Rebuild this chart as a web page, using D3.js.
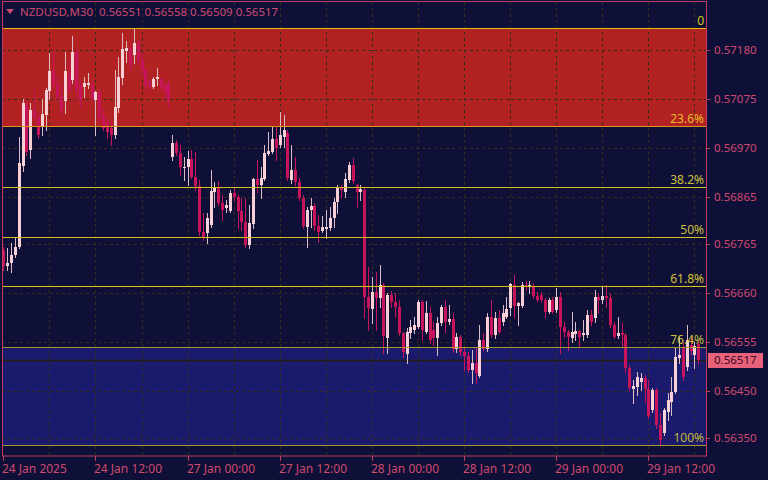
<!DOCTYPE html>
<html><head><meta charset="utf-8">
<script src="https://cdn.jsdelivr.net/npm/d3@7/dist/d3.min.js"></script>
<style>html,body{margin:0;padding:0;background:#0e1038;}svg{display:block}</style>
</head><body><svg id="c" width="768" height="480"></svg>
<script>
const symbol = "NZDUSD,M30";
const headerOHLC = ["0.56551", "0.56558", "0.56509", "0.56517"];
const opens = [.56752,.56718,.56724,.56741,.56759,.56932,.57062,.56966,.57052,.57035,.57017,.57041,.57092,.57135,.57105,.57079,.57071,.57131,.57116,.57176,.57105,.57101,.57105,.57105,.57073,.57090,.57041,.57026,.57013,.56998,.57056,.57120,.57178,.57184,.57169,.57195,.57159,.57137,.57112,.57101,.57118,.57118,.57105,.57105,.56951,.56981,.56960,.56928,.56930,.56947,.56908,.56889,.56791,.56789,.56806,.56876,.56885,.56853,.56842,.56836,.56874,.56866,.56836,.56812,.56763,.56808,.56904,.56891,.56904,.56958,.56962,.56990,.56977,.56994,.57002,.56902,.56923,.56898,.56863,.56801,.56838,.56846,.56804,.56793,.56797,.56799,.56821,.56855,.56887,.56876,.56902,.56934,.56891,.56876,.56881,.56652,.56626,.56662,.56650,.56677,.56564,.56656,.56641,.56630,.56575,.56530,.56575,.56581,.56587,.56641,.56577,.56617,.56581,.56564,.56596,.56630,.56598,.56604,.56540,.56566,.56534,.56526,.56496,.56510,.56483,.56560,.56540,.56609,.56570,.56607,.56598,.56609,.56628,.56677,.56632,.56632,.56677,.56673,.56675,.56654,.56656,.56645,.56620,.56645,.56624,.56652,.56587,.56577,.56564,.56573,.56579,.56570,.56570,.56613,.56607,.56652,.56645,.56654,.56650,.56592,.56568,.56575,.56570,.56500,.56455,.56459,.56470,.56478,.56455,.56410,.56453,.56378,.56361,.56406,.56427,.56448,.56521,.56545,.56501,.56549,.56528,.56551];
const highs = [.56759,.56756,.56767,.56778,.56994,.57075,.57073,.57067,.57094,.57045,.57075,.57099,.57174,.57176,.57127,.57109,.57176,.57159,.57210,.57184,.57116,.57122,.57131,.57116,.57092,.57094,.57056,.57035,.57030,.57137,.57165,.57216,.57199,.57195,.57227,.57201,.57174,.57141,.57120,.57122,.57141,.57122,.57112,.57116,.56998,.56987,.56977,.56951,.56964,.56966,.56962,.56902,.56831,.56831,.56923,.56898,.56900,.56870,.56859,.56881,.56885,.56870,.56863,.56863,.56848,.56906,.56945,.56930,.56977,.57005,.57015,.57015,.57047,.57041,.57009,.56977,.56951,.56906,.56870,.56844,.56863,.56853,.56827,.56825,.56838,.56844,.56863,.56891,.56891,.56917,.56940,.56949,.56893,.56891,.56885,.56716,.56694,.56705,.56720,.56682,.56660,.56665,.56660,.56645,.56577,.56585,.56602,.56609,.56645,.56645,.56643,.56630,.56598,.56609,.56635,.56645,.56635,.56617,.56575,.56570,.56543,.56534,.56538,.56543,.56592,.56575,.56617,.56645,.56620,.56624,.56635,.56652,.56682,.56699,.56641,.56684,.56686,.56686,.56682,.56662,.56662,.56650,.56650,.56652,.56671,.56662,.56598,.56581,.56620,.56598,.56581,.56602,.56624,.56624,.56667,.56660,.56673,.56677,.56660,.56598,.56609,.56596,.56575,.56506,.56474,.56491,.56489,.56485,.56474,.56457,.56457,.56404,.56414,.56446,.56481,.56545,.56566,.56560,.56592,.56566,.56555,.56558];
const lows = [.56709,.56709,.56705,.56737,.56756,.56921,.56955,.56949,.57030,.56992,.56998,.57009,.57075,.57099,.57073,.57041,.57045,.57090,.57109,.57073,.57058,.57079,.57099,.57069,.56998,.57026,.57009,.56992,.56977,.56992,.57047,.57107,.57154,.57137,.57152,.57148,.57127,.57094,.57099,.57099,.57105,.57094,.57077,.57056,.56945,.56955,.56913,.56902,.56891,.56906,.56881,.56784,.56774,.56767,.56801,.56844,.56848,.56816,.56833,.56833,.56859,.56799,.56795,.56759,.56756,.56799,.56876,.56863,.56902,.56955,.56960,.56945,.56973,.56973,.56902,.56895,.56891,.56859,.56799,.56759,.56801,.56795,.56769,.56791,.56778,.56795,.56801,.56831,.56866,.56866,.56898,.56895,.56844,.56859,.56607,.56581,.56596,.56581,.56630,.56532,.56532,.56630,.56609,.56570,.56523,.56510,.56564,.56575,.56585,.56560,.56575,.56553,.56549,.56528,.56592,.56577,.56594,.56534,.56534,.56528,.56496,.56491,.56468,.56468,.56481,.56538,.56536,.56566,.56564,.56575,.56592,.56607,.56613,.56609,.56592,.56630,.56667,.56660,.56650,.56643,.56641,.56609,.56617,.56617,.56620,.56532,.56566,.56538,.56555,.56560,.56545,.56560,.56566,.56592,.56598,.56617,.56639,.56630,.56587,.56564,.56564,.56545,.56491,.56453,.56425,.56442,.56453,.56427,.56393,.56406,.56371,.56335,.56357,.56389,.56399,.56446,.56510,.56474,.56496,.56528,.56500,.56509];
const closes = [.56718,.56724,.56741,.56759,.56938,.57067,.56962,.57052,.57035,.56998,.57043,.57094,.57135,.57105,.57079,.57052,.57135,.57094,.57176,.57094,.57073,.57109,.57109,.57077,.57090,.57035,.57013,.57005,.56998,.57058,.57122,.57182,.57184,.57148,.57195,.57159,.57137,.57105,.57101,.57118,.57122,.57099,.57090,.57073,.56981,.56960,.56930,.56930,.56947,.56908,.56889,.56791,.56778,.56821,.56878,.56885,.56853,.56838,.56848,.56874,.56866,.56836,.56812,.56763,.56810,.56904,.56891,.56906,.56960,.56964,.56990,.56970,.56998,.57009,.56906,.56923,.56898,.56863,.56804,.56838,.56846,.56804,.56791,.56801,.56801,.56821,.56855,.56887,.56881,.56904,.56934,.56900,.56876,.56883,.56652,.56628,.56662,.56650,.56677,.56568,.56656,.56641,.56630,.56575,.56534,.56577,.56587,.56592,.56641,.56581,.56617,.56560,.56564,.56596,.56630,.56598,.56604,.56540,.56566,.56534,.56526,.56496,.56510,.56489,.56560,.56540,.56609,.56570,.56607,.56577,.56617,.56626,.56679,.56632,.56639,.56677,.56673,.56677,.56654,.56645,.56645,.56620,.56645,.56620,.56652,.56587,.56577,.56566,.56577,.56579,.56566,.56575,.56613,.56598,.56652,.56645,.56654,.56650,.56592,.56566,.56575,.56570,.56500,.56457,.56461,.56481,.56478,.56455,.56397,.56453,.56378,.56346,.56410,.56431,.56448,.56523,.56528,.56481,.56560,.56536,.56547,.56517];
const timeLabels = ["24 Jan 2025", "24 Jan 12:00", "27 Jan 00:00", "27 Jan 12:00", "28 Jan 00:00", "28 Jan 12:00", "29 Jan 00:00", "29 Jan 12:00"];
const timeLabelBars = [0, 24, 48, 72, 96, 120, 144, 168];
const priceTicks = [0.57180, 0.57075, 0.56970, 0.56865, 0.56765, 0.56660, 0.56555, 0.56450, 0.56350];
const fibHigh = 0.57227;
const fibLow = 0.56335;
const fibRatios = [0, 0.236, 0.382, 0.5, 0.618, 0.764, 1];
const fibLabels = ["0", "23.6%", "38.2%", "50%", "61.8%", "76.4%", "100%"];
const lastPrice = 0.56517;

// ---- styling / layout ----
const W = 768, H = 480;
const plot = {l: 2, r: 706, t: 2, b: 456};
const C = {
  bg: "#0e1038", frame: "#c23c62", axisText: "#cf4a6e", grid: "#362c1c",
  bull: "#f9d0d6", bullWick: "#dcbcc4", bear: "#c8145a",
  red: "#b22222", blue: "#1b1b6e", lastLine: "#241c10",
  tagBg: "#e8627c", tagText: "#3c0a22"
};
const fibLineColors = ["#e2bf10", "#e0921c", "#d8be1c", "#d8be1c", "#e0c214", "#a8982c", "#a8982c"];
const fibTextColors = ["#d8c41c", "#eab824", "#ccc03c", "#ccc03c", "#d4c030", "#c8c038", "#c0b840"];
const font = "'Noto Sans', 'DejaVu Sans', sans-serif";

const n = closes.length;
const svg = d3.select("#c");
svg.append("rect").attr("width", W).attr("height", H).attr("fill", C.bg);

const x = d3.scaleBand().domain(d3.range(n)).range([1.38, 1.38 + 3.84 * n]).padding(0);
const cx = i => x(i) + x.bandwidth() / 2;
const y = d3.scaleLinear().domain([0.56350, 0.57180]).range([438, 50]);
const px = v => Math.round(v) + 0.5;

const fibPrices = fibRatios.map(r => fibHigh - (fibHigh - fibLow) * r);

// zones
const zoneG = svg.append("g");
zoneG.append("rect").attr("x", plot.l).attr("width", plot.r - plot.l)
  .attr("y", Math.round(y(fibPrices[0]))).attr("height", Math.round(y(fibPrices[1])) - Math.round(y(fibPrices[0])))
  .attr("fill", C.red);
zoneG.append("rect").attr("x", plot.l).attr("width", plot.r - plot.l)
  .attr("y", Math.round(y(fibPrices[5]))).attr("height", Math.round(y(fibPrices[6])) - Math.round(y(fibPrices[5])))
  .attr("fill", C.blue);

// grid
const gridG = svg.append("g").attr("stroke", C.grid).attr("stroke-dasharray", "3,3").attr("stroke-width", 1);
gridG.selectAll("line.h").data(priceTicks).join("line").attr("class", "h")
  .attr("x1", plot.l).attr("x2", plot.r).attr("y1", d => px(y(d))).attr("y2", d => px(y(d)));
const vBars = d3.range(12, n, 12);
gridG.selectAll("line.v").data(vBars).join("line").attr("class", "v")
  .attr("y1", plot.t).attr("y2", plot.b).attr("x1", d => px(cx(d))).attr("x2", d => px(cx(d)));

// last price line
svg.append("line").attr("x1", plot.l).attr("x2", plot.r)
  .attr("y1", px(y(lastPrice))).attr("y2", px(y(lastPrice))).attr("stroke", C.lastLine).attr("stroke-width", 1.5);

// candles
const data = d3.range(n).map(i => ({i, o: opens[i], h: highs[i], l: lows[i], c: closes[i]}));
const cg = svg.append("g");
const candle = cg.selectAll("g").data(data).join("g");
candle.append("line")
  .attr("x1", d => px(cx(d.i))).attr("x2", d => px(cx(d.i)))
  .attr("y1", d => Math.round(y(d.h))).attr("y2", d => Math.round(y(d.l)) + 1)
  .attr("stroke", d => d.c >= d.o ? C.bullWick : C.bear).attr("stroke-width", 1);
candle.append("rect")
  .attr("x", d => Math.round(cx(d.i)) - 1).attr("width", 3)
  .attr("y", d => Math.round(y(Math.max(d.o, d.c))))
  .attr("height", d => Math.max(1, Math.round(y(Math.min(d.o, d.c))) - Math.round(y(Math.max(d.o, d.c)))))
  .attr("fill", d => d.c >= d.o ? C.bull : C.bear);

// fib lines + labels
const fg = svg.append("g");
fg.selectAll("line").data(fibPrices).join("line")
  .attr("x1", plot.l).attr("x2", plot.r)
  .attr("y1", d => px(y(d))).attr("y2", d => px(y(d)))
  .attr("stroke", (d, k) => fibLineColors[k]).attr("stroke-width", 1.2);
fg.selectAll("text").data(fibPrices).join("text")
  .attr("x", plot.r - 2).attr("y", d => Math.round(y(d)) - 3)
  .attr("text-anchor", "end").attr("font-family", font).attr("font-size", 12)
  .attr("fill", (d, k) => fibTextColors[k]).text((d, k) => fibLabels[k]);

// frame
svg.append("rect").attr("x", plot.l + 0.5).attr("y", plot.t - 0.5).attr("width", plot.r - plot.l)
  .attr("height", plot.b - plot.t + 0.5).attr("fill", "none").attr("stroke", C.frame).attr("stroke-width", 1);

// price axis
const pa = svg.append("g");
pa.selectAll("line").data(priceTicks).join("line")
  .attr("x1", plot.r).attr("x2", plot.r + 4).attr("y1", d => px(y(d))).attr("y2", d => px(y(d)))
  .attr("stroke", C.frame);
pa.selectAll("text").data(priceTicks).join("text")
  .attr("x", plot.r + 8).attr("y", d => y(d)).attr("dy", "0.36em")
  .attr("font-family", font).attr("font-size", 11.5).attr("fill", C.axisText)
  .text(d => d3.format(".5f")(d));

// last price tag
const ly = y(lastPrice);
svg.append("rect").attr("x", plot.r + 2).attr("y", Math.round(ly) - 7).attr("width", 55).attr("height", 15).attr("fill", C.tagBg);
svg.append("text").attr("x", plot.r + 8).attr("y", ly).attr("dy", "0.38em")
  .attr("font-family", font).attr("font-size", 11.5).attr("fill", C.tagText).text(d3.format(".5f")(lastPrice));

// time axis
const ta = svg.append("g");
ta.selectAll("line").data(timeLabelBars).join("line")
  .attr("x1", d => px(cx(d))).attr("x2", d => px(cx(d))).attr("y1", plot.b).attr("y2", plot.b + 5)
  .attr("stroke", C.frame);
ta.selectAll("text").data(timeLabelBars).join("text")
  .attr("x", d => Math.round(cx(d)) - 1).attr("y", 473)
  .attr("font-family", font).attr("font-size", 12).attr("fill", C.axisText)
  .text((d, k) => timeLabels[k]);

// title
svg.append("path").attr("d", "M6,9 L14,9 L10,14 Z").attr("fill", C.axisText);
const title = svg.append("text").attr("x", 20).attr("y", 16).attr("font-family", font).attr("font-size", 11.5)
  .attr("fill", C.axisText).attr("xml:space", "preserve");
title.text(symbol + "  " + headerOHLC.join(" "));
</script></body></html>
